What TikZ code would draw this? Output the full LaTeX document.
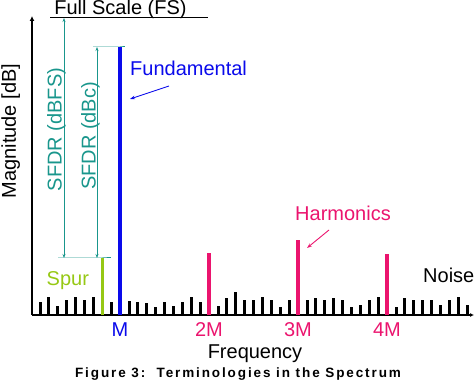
\documentclass[tikz,border=0pt]{standalone}
\usepackage{fontspec}
\setmainfont{Liberation Sans}
\newfontfamily\capfont[LetterSpace=14]{Liberation Sans}
\usetikzlibrary{arrows.meta}

\definecolor{fundblue}{RGB}{10,10,235}
\definecolor{sfdrteal}{RGB}{25,150,140}
\definecolor{spurgreen}{RGB}{150,200,20}
\definecolor{harmpink}{RGB}{235,20,110}

\begin{document}
\begin{tikzpicture}[x=1pt, y=-1pt,
    lbl/.style={font=\fontsize{20}{22}\selectfont, inner sep=0pt},
    noisebar/.style={line width=3pt},
    peakbar/.style={line width=3.2pt},
    sfdrline/.style={sfdrteal, line width=1pt},
    sfdrarrow/.style={sfdrline, {Stealth[length=4pt,width=3pt]}-{Stealth[length=4pt,width=3pt]}},
    callout/.style={line width=0.9pt, -{Stealth[length=5pt,width=3.5pt]}}]
\useasboundingbox (0,0) rectangle (474,382); % adjust bounding box

% axes
\coordinate (O) at (32,315);
\draw [line width=2.2pt, -{Latex[length=5pt,width=5pt]}] (O) -- (32,16) coordinate (ytop);
\draw [line width=2.2pt, -{Latex[length=4pt,width=4pt]}] (O) -- (474,315) coordinate (xend);

% noise floor
\foreach \i/\h in {0/13,1/18,2/9,3/15,4/18,5/15,6/18,8/13,10/14,11/13,12/12,13/8,
                   14/13,15/9,16/13,17/18,18/13,20/9,21/17,22/23,23/15,24/15,25/18,
                   26/15,27/8,28/15,30/15,31/17,32/15,33/17,34/15,35/8,36/10,37/15,
                   38/18,40/8,41/17,42/15,43/15,44/15,45/10,46/15,47/18,48/10}
  \draw [noisebar] (40+8.9*\i, 315) -- ++(0,-\h);

% peaks
\coordinate (S) at (102.5,315);
\coordinate (M) at (120,315);
\coordinate (M2) at (209,315);
\coordinate (M3) at (298,315);
\coordinate (M4) at (387,315);
\draw [peakbar, spurgreen] (S) -- (102.5,258) coordinate (Stop);
\draw [peakbar, line width=3.4pt, fundblue] (M) -- (120,47) coordinate (Mtop);
\draw [peakbar, harmpink] (M2) -- (209,253) coordinate (M2top);
\draw [peakbar, harmpink] (M3) -- (298,240) coordinate (M3top);
\draw [peakbar, harmpink] (M4) -- (387,254) coordinate (M4top);

% full scale
\draw [line width=1.3pt] (50,17.5) coordinate (FSl) -- (208,17.5) coordinate (FSr);
\node [lbl, anchor=base] (fs) at (120.5,15) {Full Scale (FS)};

% SFDR markers
\draw [sfdrline] (58,258) -- (Stop) -- (111,258);
\draw [sfdrline] (93,47) -- (Mtop) -- (125,47);
\draw [sfdrarrow] (64,258) coordinate (dbfsb) -- (64,18) coordinate (dbfst);
\draw [sfdrarrow] (97,258) coordinate (dbcb) -- (97,47) coordinate (dbct);
\node [lbl, sfdrteal, rotate=90, anchor=base] (dbfs) at (61.5,129.5) {SFDR (dBFS)};
\node [lbl, sfdrteal, rotate=90, anchor=base] (dbc) at (95.5,136) {SFDR (dBc)};

% labels
\node [lbl, rotate=90, anchor=base] (ylab) at (16,131) {Magnitude [dB]};
\node [lbl, fundblue, anchor=base west] (fund) at (130,76) {Fundamental};
\node [lbl, harmpink, anchor=base west] (harm) at (295,220.5) {Harmonics};
\node [lbl, anchor=base west] (noise) at (423,282.5) {Noise};
\node [lbl, spurgreen, anchor=base west] (spur) at (46.5,286) {Spur};
\node [lbl, fundblue, anchor=base] (lM) at (120,336) {M};
\node [lbl, harmpink, anchor=base] (l2M) at (209,336) {2M};
\node [lbl, harmpink, anchor=base] (l3M) at (298,336) {3M};
\node [lbl, harmpink, anchor=base] (l4M) at (387,336) {4M};
\node [lbl, anchor=base] (xlab) at (255,358) {Frequency};
\node [inner sep=0pt, anchor=base, font=\capfont\bfseries\fontsize{13.5}{15}\selectfont] (cap) at (238,377)
  {Figure 3:\ \ Terminologies in the Spectrum};

% callouts
\coordinate (fundtail) at (169,86);
\coordinate (fundtip) at (130,99);
\coordinate (harmtail) at (329,230);
\coordinate (harmtip) at (307,248);
\draw [callout, fundblue] (fundtail) -- (fundtip);
\draw [callout, harmpink] (harmtail) -- (harmtip);
\end{tikzpicture}
\end{document}
